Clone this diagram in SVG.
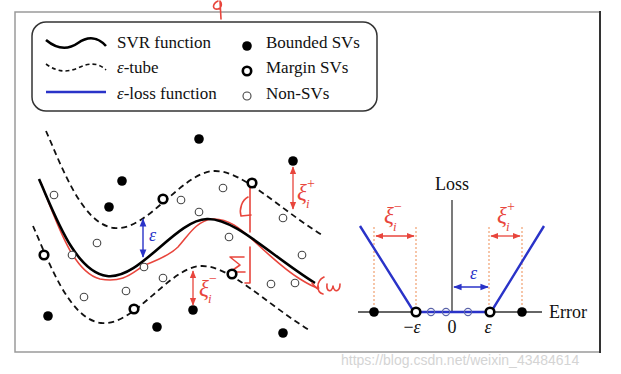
<svg xmlns="http://www.w3.org/2000/svg" width="621" height="374" viewBox="0 0 621 374">
<defs>
<style>
.t{font-family:"Liberation Serif","Times New Roman",serif;fill:#111}
.it{font-style:italic}
.red{fill:#e8453c}
.blue{fill:#2a33c8}
.svr{fill:none;stroke:#000;stroke-width:2.6}
.tube{fill:none;stroke:#111;stroke-width:1.8;stroke-dasharray:6 4}
.bnd{fill:#000}
.mrg{fill:#fff;stroke:#000;stroke-width:2.6}
.non{fill:#fff;stroke:#444;stroke-width:1.1}
.hand{fill:none;stroke:#e8453c;stroke-width:1.6;stroke-linecap:round;stroke-linejoin:round}
.rarr{fill:none;stroke:#e8453c;stroke-width:1.3}
.barr{fill:none;stroke:#2a33c8;stroke-width:1.4}
.dot{fill:none;stroke:#f0a070;stroke-width:1.2;stroke-dasharray:2 2}
</style>
<marker id="rh" viewBox="0 0 10 10" refX="9" refY="5" markerWidth="6" markerHeight="6" orient="auto-start-reverse"><path d="M0,1 L10,5 L0,9 z" fill="#e8453c"/></marker>
<marker id="bh" viewBox="0 0 10 10" refX="9" refY="5" markerWidth="6" markerHeight="6" orient="auto-start-reverse"><path d="M0,1 L10,5 L0,9 z" fill="#2a33c8"/></marker>
<path id="svrc" d="M39,179 C55,215 75,272 107,276 C140,280 175,220 207,219 C235,218 270,255 315,283"/>
</defs>
<rect width="621" height="374" fill="#fff"/>
<!-- frame -->
<g id="frame">
<path d="M600,12 L15,12 L15,352 L600,352" fill="none" stroke="#9a9a9a" stroke-width="1.5"/>
<line x1="600" y1="11" x2="600" y2="353" stroke="#333" stroke-width="2"/>
</g>
<!-- legend -->
<g id="legend">
<rect x="32" y="22" width="345" height="89" rx="14" fill="#fff" stroke="#333" stroke-width="1.5"/>
<g id="leg-svr"><path d="M46,40 C58,50 68,50 78,43 C88,36 98,37 106,46" class="svr"/><text x="117" y="48" class="t" font-size="17">SVR function</text></g>
<g id="leg-tube"><path d="M46,64 C58,73 68,72 78,68 C88,63 98,62 106,70" fill="none" stroke="#111" stroke-width="1.6" stroke-dasharray="4 3"/><text x="117" y="73" class="t" font-size="17"><tspan class="it">ε</tspan>-tube</text></g>
<g id="leg-loss"><line x1="46" y1="92" x2="106" y2="92" stroke="#2a33c8" stroke-width="2.6"/><text x="117" y="99" class="t" font-size="17"><tspan class="it">ε</tspan>-loss function</text></g>
<g id="leg-bounded"><circle cx="247" cy="46" r="4.8" class="bnd"/><text x="266" y="48" class="t" font-size="17">Bounded SVs</text></g>
<g id="leg-margin"><circle cx="247" cy="71" r="4.2" class="mrg"/><text x="266" y="73" class="t" font-size="17">Margin SVs</text></g>
<g id="leg-non"><circle cx="247" cy="96" r="4" class="non"/><text x="266" y="99" class="t" font-size="17">Non-SVs</text></g>
</g>
<!-- left plot curves -->
<g id="curves">
<use href="#svrc" class="tube" transform="translate(7,-48)"/>
<use href="#svrc" class="tube" transform="translate(-6,47)"/>
<path d="M41,183 C56,220 72,272 100,279 C125,284 135,270 145,265 C158,260 170,255 178,247 C188,236 196,221 212,219 C228,218 240,228 255,242 C270,256 285,270 300,279 C308,284 313,287 318,288" class="hand"/>
<use href="#svrc" class="svr"/>
</g>
<!-- hand annotations -->
<g id="annotations">
<path d="M218,1 C212,4 212,10 218,9 C222,8 222,3 220,1 L221,19" class="hand" stroke-width="2"/>
<path d="M250,185 L250,232 M250,247 L250,283 L245,283" class="hand"/>
<path d="M248,197 C242,200 239,209 241,216 L251,215" class="hand"/>
<path d="M244,257 L230,257 L240,265 L230,272 L245,272" class="hand"/>
<path d="M324,277 C316,281 316,292 323,294 M327,284 C326,292 332,293 333,286 C334,293 340,292 340,284" class="hand"/>
<path d="M312,283 C316,288 320,292 318,286" class="hand"/>
</g>
<!-- points left -->
<g id="bounded-svs">
<circle cx="199" cy="139" r="4.8" class="bnd"/>
<circle cx="293" cy="161" r="4.8" class="bnd"/>
<circle cx="122" cy="181" r="4.8" class="bnd"/>
<circle cx="109" cy="207" r="4.8" class="bnd"/>
<circle cx="48" cy="316" r="4.8" class="bnd"/>
<circle cx="157" cy="327" r="4.8" class="bnd"/>
<circle cx="193" cy="310" r="4.8" class="bnd"/>
<circle cx="283" cy="333" r="4.8" class="bnd"/>
</g>
<g id="margin-svs">
<circle cx="44" cy="255" r="4.3" class="mrg"/>
<circle cx="163" cy="199" r="4.3" class="mrg"/>
<circle cx="252" cy="183" r="4.3" class="mrg"/>
<circle cx="232" cy="274" r="4.3" class="mrg"/>
<circle cx="134" cy="309" r="4.3" class="mrg"/>
</g>
<g id="non-svs">
<circle cx="54" cy="195" r="3.8" class="non"/>
<circle cx="97" cy="243" r="3.8" class="non"/>
<circle cx="72" cy="255" r="3.8" class="non"/>
<circle cx="181" cy="200" r="3.8" class="non"/>
<circle cx="223" cy="188" r="3.8" class="non"/>
<circle cx="199" cy="212" r="3.8" class="non"/>
<circle cx="283" cy="218" r="3.8" class="non"/>
<circle cx="229" cy="237" r="3.8" class="non"/>
<circle cx="302" cy="255" r="3.8" class="non"/>
<circle cx="144" cy="267" r="3.8" class="non"/>
<circle cx="163" cy="278" r="3.8" class="non"/>
<circle cx="126" cy="291" r="3.8" class="non"/>
<circle cx="84" cy="297" r="3.8" class="non"/>
<circle cx="271" cy="284" r="3.8" class="non"/>
<circle cx="295" cy="283" r="3.8" class="non"/>
</g>
<!-- right plot -->
<g id="loss-plot">
<line x1="452" y1="200" x2="452" y2="312" stroke="#333" stroke-width="1.3"/>
<line x1="358" y1="312" x2="542" y2="312" stroke="#333" stroke-width="1.3"/>
<text x="452" y="190" class="t" font-size="18" text-anchor="middle">Loss</text>
<text x="549" y="318" class="t" font-size="18">Error</text>
<line x1="374" y1="227" x2="374" y2="306" class="dot"/>
<line x1="416" y1="227" x2="416" y2="306" class="dot"/>
<line x1="489" y1="227" x2="489" y2="306" class="dot"/>
<line x1="522" y1="227" x2="522" y2="306" class="dot"/>
<path d="M360,226 L414,312 L491,312 L544,226" fill="none" stroke="#2a33c8" stroke-width="2.4"/>
<circle cx="374" cy="312" r="4.8" class="bnd"/>
<circle cx="522" cy="312" r="4.8" class="bnd"/>
<circle cx="416" cy="312" r="4.3" class="mrg"/>
<circle cx="490" cy="312" r="4.3" class="mrg"/>
<circle cx="431" cy="312" r="3.6" fill="none" stroke="#5a63a8" stroke-width="1.1"/>
<circle cx="446" cy="312" r="3.6" fill="none" stroke="#5a63a8" stroke-width="1.1"/>
<circle cx="468" cy="312" r="3.6" fill="none" stroke="#5a63a8" stroke-width="1.1"/>
<text x="412" y="333" class="t" font-size="18" text-anchor="middle">−<tspan class="it">ε</tspan></text>
<text x="452" y="333" class="t" font-size="18" text-anchor="middle">0</text>
<text x="488" y="333" class="t it" font-size="18" text-anchor="middle">ε</text>
</g>
<!-- connectors -->
<g id="connectors">
<line x1="143" y1="219" x2="143" y2="257" class="barr" marker-start="url(#bh)" marker-end="url(#bh)"/>
<line x1="293" y1="167" x2="293" y2="209" class="rarr" marker-start="url(#rh)" marker-end="url(#rh)"/>
<line x1="193" y1="271" x2="193" y2="305" class="rarr" marker-start="url(#rh)" marker-end="url(#rh)"/>
<line x1="376" y1="236" x2="414" y2="236" class="rarr" marker-start="url(#rh)" marker-end="url(#rh)"/>
<line x1="491" y1="236" x2="520" y2="236" class="rarr" marker-start="url(#rh)" marker-end="url(#rh)"/>
<line x1="454" y1="287" x2="488" y2="287" class="barr" marker-start="url(#bh)" marker-end="url(#bh)"/>
</g>
<!-- labels -->
<g id="labels">
<text x="149" y="241" class="t it blue" font-size="18">ε</text>
<text x="470" y="279" class="t it blue" font-size="18">ε</text>
<text x="297" y="200" class="t it red" font-size="23">ξ</text>
<text x="307" y="188" class="t red" font-size="14">+</text>
<text x="306" y="208" class="t it red" font-size="13">i</text>
<text x="199" y="296" class="t it red" font-size="23">ξ</text>
<text x="209" y="283" class="t red" font-size="14">−</text>
<text x="208" y="303" class="t it red" font-size="13">i</text>
<text x="384" y="223" class="t it red" font-size="23">ξ</text>
<text x="394" y="211" class="t red" font-size="14">−</text>
<text x="393" y="231" class="t it red" font-size="13">i</text>
<text x="497" y="223" class="t it red" font-size="23">ξ</text>
<text x="507" y="211" class="t red" font-size="14">+</text>
<text x="506" y="231" class="t it red" font-size="13">i</text>
</g>
<text x="341" y="365" font-family="Liberation Sans, Arial, sans-serif" font-size="14" fill="#d4d4d4">https://blog.csdn.net/weixin_43484614</text>
</svg>
